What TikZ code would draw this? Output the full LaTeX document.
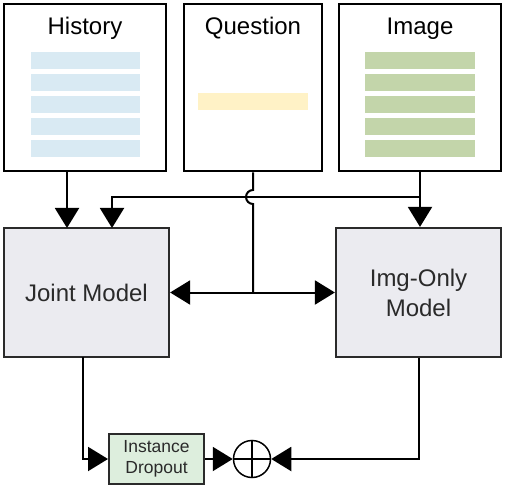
\documentclass[tikz,border=0pt]{standalone}
\usepackage{fontspec}
\setmainfont{Liberation Sans}
\usetikzlibrary{arrows.meta}
\definecolor{histc}{HTML}{D9EAF3}
\definecolor{quesc}{HTML}{FFF2C6}
\definecolor{imgc}{HTML}{C3D5AA}
\definecolor{modelc}{HTML}{EBEBF0}
\definecolor{dropc}{HTML}{DDEEDD}
\definecolor{darkc}{HTML}{2A2A2A}
\begin{document}
\begin{tikzpicture}[x=1pt,y=-1pt,
  topbox/.style={draw=black, line width=2.6pt, fill=white, minimum height=167pt, inner sep=0pt},
  title/.style={anchor=base, font=\fontsize{24}{29}\selectfont},
  modelbox/.style={draw=darkc, line width=2.2pt, fill=modelc, minimum width=165pt, minimum height=129pt, inner sep=0pt, align=center, font=\fontsize{24}{30}\selectfont, text=darkc},
  dropbox/.style={draw=darkc, line width=2pt, fill=dropc, minimum width=95pt, minimum height=50pt, inner sep=0pt, align=center, font=\fontsize{17.5}{21}\selectfont, text=darkc},
  sumnode/.style={circle, draw=black, line width=1.5pt, fill=white, minimum size=37pt, inner sep=0pt},
  conn/.style={draw=black, line width=2pt},
  arr/.style={conn, -{Triangle[length=20pt,width=24pt]}},
  darr/.style={conn, {Triangle[length=20pt,width=24pt]}-{Triangle[length=20pt,width=24pt]}}
]
\useasboundingbox (0,0) rectangle (506,489);

% top boxes
\node[topbox, minimum width=162pt] (hist) at (85,87.5) {};
\node[topbox, minimum width=138pt] (ques) at (253,87.5) {};
\node[topbox, minimum width=162pt] (img) at (420,87.5) {};
\node[title] (histt) at (85,35) {History};
\node[title] (quest) at (253,35) {Question};
\node[title] (imgt) at (420,35) {Image};

% stripes
\foreach \y in {52,74,96,118,140}{
  \fill[histc] (31,\y) rectangle (140,\y+17);
  \fill[imgc] (365,\y) rectangle (475,\y+17);
}
\fill[quesc] (198,93) rectangle (308,110);

% models
\node[modelbox] (joint) at (86.5,292.5) {Joint Model};
\node[modelbox] (imgonly) at (418.5,292.5) {Img-Only\\Model};

% dropout and sum
\node[dropbox] (drop) at (156.5,459) {Instance\\Dropout};
\node[sumnode] (sum) at (252,459) {};
\draw[line width=1.5pt] (sum.north) -- (sum.south) (sum.west) -- (sum.east);

% coordinates
\coordinate (ja) at (67,228);
\coordinate (jb) at (112,228);
\coordinate (split) at (420,197);
\coordinate (jo) at (83,357);

% connectors
\draw[arr] (hist.south -| ja) -- (ja);
\draw[arr] (img.south) -- (img.south |- imgonly.north);
\draw[arr] (split) -| (jb);
\draw[conn] (ques.south) -- (253,190) arc[start angle=270, end angle=90, radius=7] -- (253,292.5);
\draw[darr] (joint.east) -- (imgonly.west);
\draw[arr] (jo) |- (drop.west);
\draw[arr] (drop.east) -- (sum.west);
\draw[arr] (imgonly.south) |- (sum.east);
\end{tikzpicture}
\end{document}
